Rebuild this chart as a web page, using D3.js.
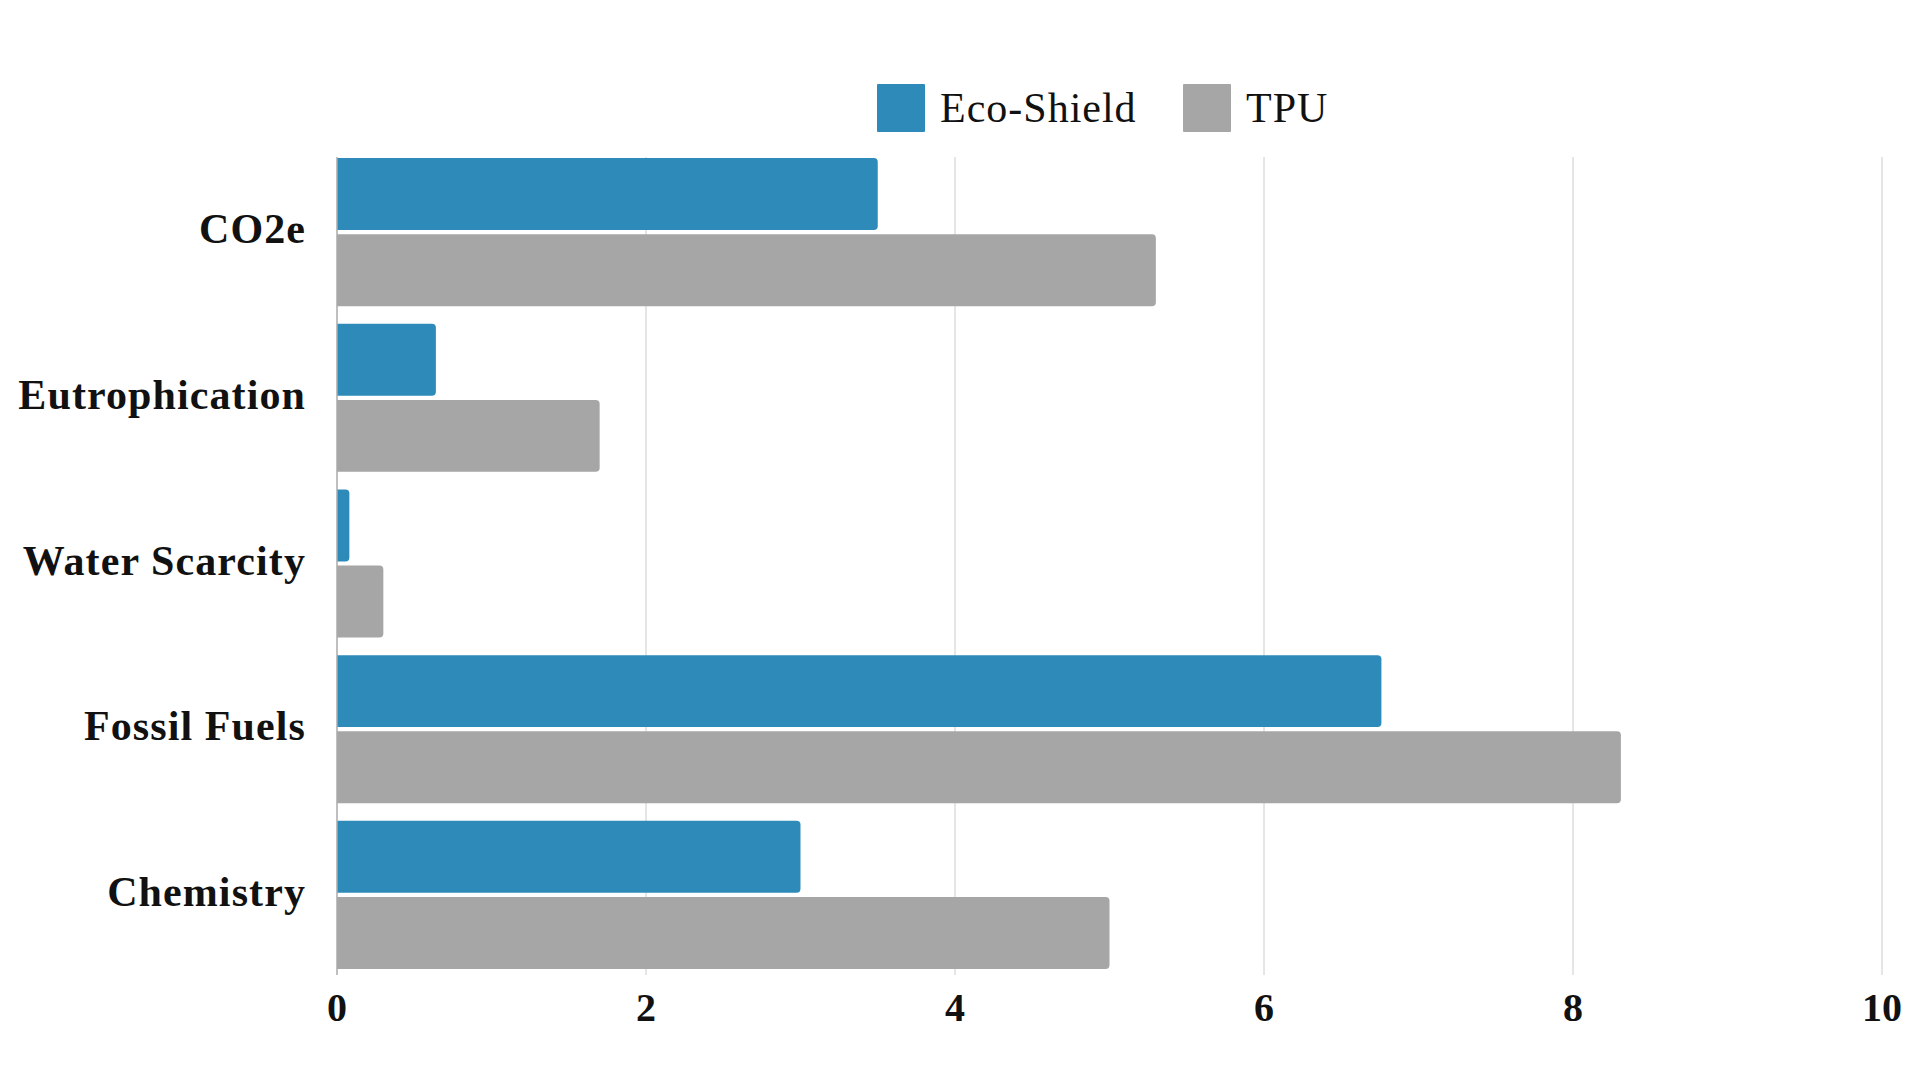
<!DOCTYPE html>
<html>
<head>
<meta charset="utf-8">
<script src="https://cdn.jsdelivr.net/npm/d3@7"></script>
<style>
  body { margin: 0; background: #fff; }
  text { font-family: "Liberation Serif", "DejaVu Serif", serif; fill: #111; }
</style>
</head>
<body>
<div id="chart"></div>
<script>
let width = 1920,
    height = 1080,
    margin = ({ top: 158, right: 38, bottom: 111, left: 337 }); // plot box

const categories = ["CO2e", "Eutrophication", "Water Scarcity", "Fossil Fuels", "Chemistry"];
const series = ["Eco-Shield", "TPU"];
const ecoShield = [3.5, 0.64, 0.08, 6.76, 3.0];
const tpu = [5.3, 1.7, 0.3, 8.31, 5.0];
const xTicks = [0, 2, 4, 6, 8, 10];
const colors = ["#2e8bb9", "#a6a6a6"];

const data = categories.map((c, i) => ({ cat: c, values: [ecoShield[i], tpu[i]] }));

const svg = d3.select("#chart")
  .append("svg")
  .attr("width", width)
  .attr("height", height);

let x = d3.scaleLinear()
  .domain([0, 10])
  .range([margin.left, width - margin.right]);

let y = d3.scaleBand()
  .domain(categories)
  .range([margin.top, 969])
  .paddingInner(0.106)
  .paddingOuter(0);

let y1 = d3.scaleBand()
  .domain(series)
  .range([0, y.bandwidth()])
  .paddingInner(0.055);

// grid lines
svg.append("g")
  .selectAll("line")
  .data(xTicks.slice(1))
  .join("line")
  .attr("x1", d => x(d)).attr("x2", d => x(d))
  .attr("y1", 157).attr("y2", 975)
  .attr("stroke", "#cccccc")
  .attr("stroke-width", 1);

// rounded-right bar path
function barPath(x0, y0, w, h, r) {
  r = Math.min(r, w, h / 2);
  return `M${x0},${y0}H${x0 + w - r}Q${x0 + w},${y0} ${x0 + w},${y0 + r}V${y0 + h - r}Q${x0 + w},${y0 + h} ${x0 + w - r},${y0 + h}H${x0}Z`;
}

const groups = svg.append("g")
  .selectAll("g")
  .data(data)
  .join("g")
  .attr("transform", d => `translate(0,${y(d.cat)})`);

groups.selectAll("path")
  .data(d => d.values.map((v, i) => ({ key: series[i], v: v, i: i })))
  .join("path")
  .attr("d", d => barPath(x(0), y1(d.key), x(d.v) - x(0), y1.bandwidth(), 4))
  .attr("fill", d => colors[d.i]);

// left axis line
svg.append("line")
  .attr("x1", x(0)).attr("x2", x(0))
  .attr("y1", 157).attr("y2", 975)
  .attr("stroke", "#aaa")
  .attr("stroke-width", 1.5);

// category labels
svg.append("g")
  .selectAll("text")
  .data(categories)
  .join("text")
  .attr("x", 306)
  .attr("y", d => y(d) + y.bandwidth() / 2 - 3)
  .attr("text-anchor", "end")
  .attr("dominant-baseline", "central")
  .style("font-size", "42px")
  .style("font-weight", "bold")
  .style("letter-spacing", "1.1px")
  .text(d => d);

// x tick labels
svg.append("g")
  .selectAll("text")
  .data(xTicks)
  .join("text")
  .attr("x", d => x(d))
  .attr("y", 1007)
  .attr("text-anchor", "middle")
  .attr("dominant-baseline", "central")
  .style("font-size", "40px")
  .style("font-weight", "bold")
  .text(d => d);

// legend
const legendX = [877, 1183];
const legend = svg.append("g")
  .selectAll("g")
  .data(series)
  .join("g")
  .attr("transform", (d, i) => `translate(${legendX[i]},84)`);

legend.append("rect")
  .attr("width", 48).attr("height", 48)
  .attr("rx", 1)
  .attr("fill", (d, i) => colors[i]);

legend.append("text")
  .attr("x", 63)
  .attr("y", 24)
  .attr("dominant-baseline", "central")
  .style("font-size", "42px")
  .style("font-weight", "normal")
  .style("letter-spacing", "1px")
  .text(d => d);
</script>
</body>
</html>
